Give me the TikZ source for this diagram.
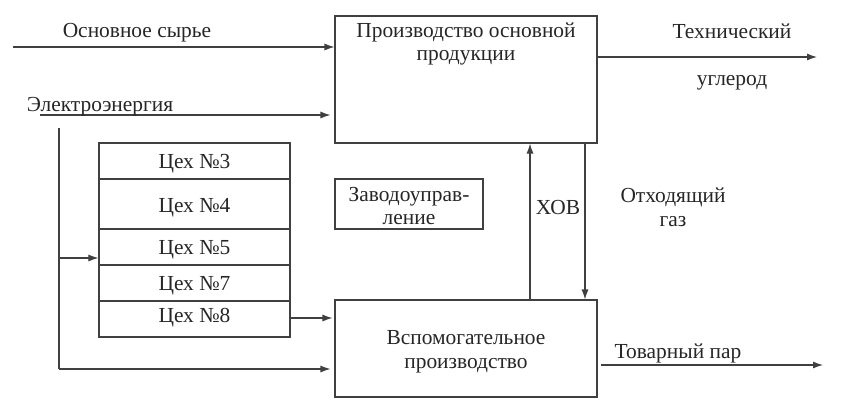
\documentclass[tikz,border=0pt]{standalone}
\usepackage{fontspec}
\setmainfont{Liberation Serif}
\newfontfamily\diagfont{Liberation Serif}
\usetikzlibrary{arrows.meta}
\begin{document}
\begin{tikzpicture}[x=1bp,y=-1bp,
  line width=1.1bp,
  every node/.style={font=\diagfont\fontsize{21.5}{24}\selectfont, text=black!85, inner sep=0pt},
  box/.style={draw=black!75, line width=1.1bp},
  conn/.style={draw=black!75, line width=1.1bp, -{Latex[length=10bp,width=7bp]}},
  plain/.style={draw=black!75, line width=1.1bp},
  lbl/.style={align=center}]
\useasboundingbox[fill=white] (0,0) rectangle (856,408);
% boxes
\node[box, minimum width=262bp, minimum height=127bp] (top) at (466,79.5) {};
\node[box, minimum width=262bp, minimum height=97bp] (bot) at (466,348.5) {};
\node[box, minimum width=148bp, minimum height=50bp] (zav) at (409,204) {};
\node[box, minimum width=191bp, minimum height=36bp] (c3) at (194.5,161) {};
\node[box, minimum width=191bp, minimum height=50bp] (c4) at (194.5,204) {};
\node[box, minimum width=191bp, minimum height=36bp] (c5) at (194.5,247) {};
\node[box, minimum width=191bp, minimum height=36bp] (c7) at (194.5,283) {};
\node[box, minimum width=191bp, minimum height=36bp] (c8) at (194.5,319) {};
% box texts
\node[lbl] (toptxt) at (466,44) {Производство основной\\продукции};
\node[lbl] (bottxt) at (466,352) {Вспомогательное\\производство};
\node[lbl] (zavtxt) at (409,206) {Заводоуправ-\\ление};
\node (t3) at (194.5,163.5) {Цех №3};
\node (t4) at (194.5,207.5) {Цех №4};
\node (t5) at (194.5,249.5) {Цех №5};
\node (t7) at (194.5,285.5) {Цех №7};
\node (t8) at (194.5,317.5) {Цех №8};
% free-end coordinates
\coordinate (s1) at (13,47);
\coordinate (e1) at (40,115);
\coordinate (v1) at (59,128);
\coordinate (v2) at (59,369);
\coordinate (v3) at (59,258);
\coordinate (o1) at (817,57);
\coordinate (o2) at (823,365);
% connectors
\draw[conn] (s1) -- (s1 -| top.west);
\draw[conn] (e1) -- ([xshift=-4bp]e1 -| top.west);
\draw[plain] (v1) -- (v2);
\draw[conn] (v2) -- ([xshift=-4bp]v2 -| bot.west);
\draw[conn] (v3) -- (v3 -| c5.west);
\draw[conn] (c8.east |- 0,318) -- ([xshift=-2bp]bot.west |- 0,318);
\draw[conn] (bot.north -| 530,0) -- (top.south -| 530,0);
\draw[conn] (top.south -| 585,0) -- (bot.north -| 585,0);
\draw[conn] (top.east |- o1) -- (o1);
\draw[conn] ([xshift=3bp]bot.east |- o2) -- (o2);
% labels
\node (l1) at (137,32.5) {Основное сырье};
\node (l2) at (100,106.5) {Электроэнергия};
\node (l3) at (732,31.5) {Технический};
\node (l4) at (732,82.5) {углерод};
\node (l5) at (558,207.5) {ХОВ};
\node[lbl] (l6) at (673,207) {Отходящий\\газ};
\node (l7) at (678,353.5) {Товарный пар};
\end{tikzpicture}
\end{document}
